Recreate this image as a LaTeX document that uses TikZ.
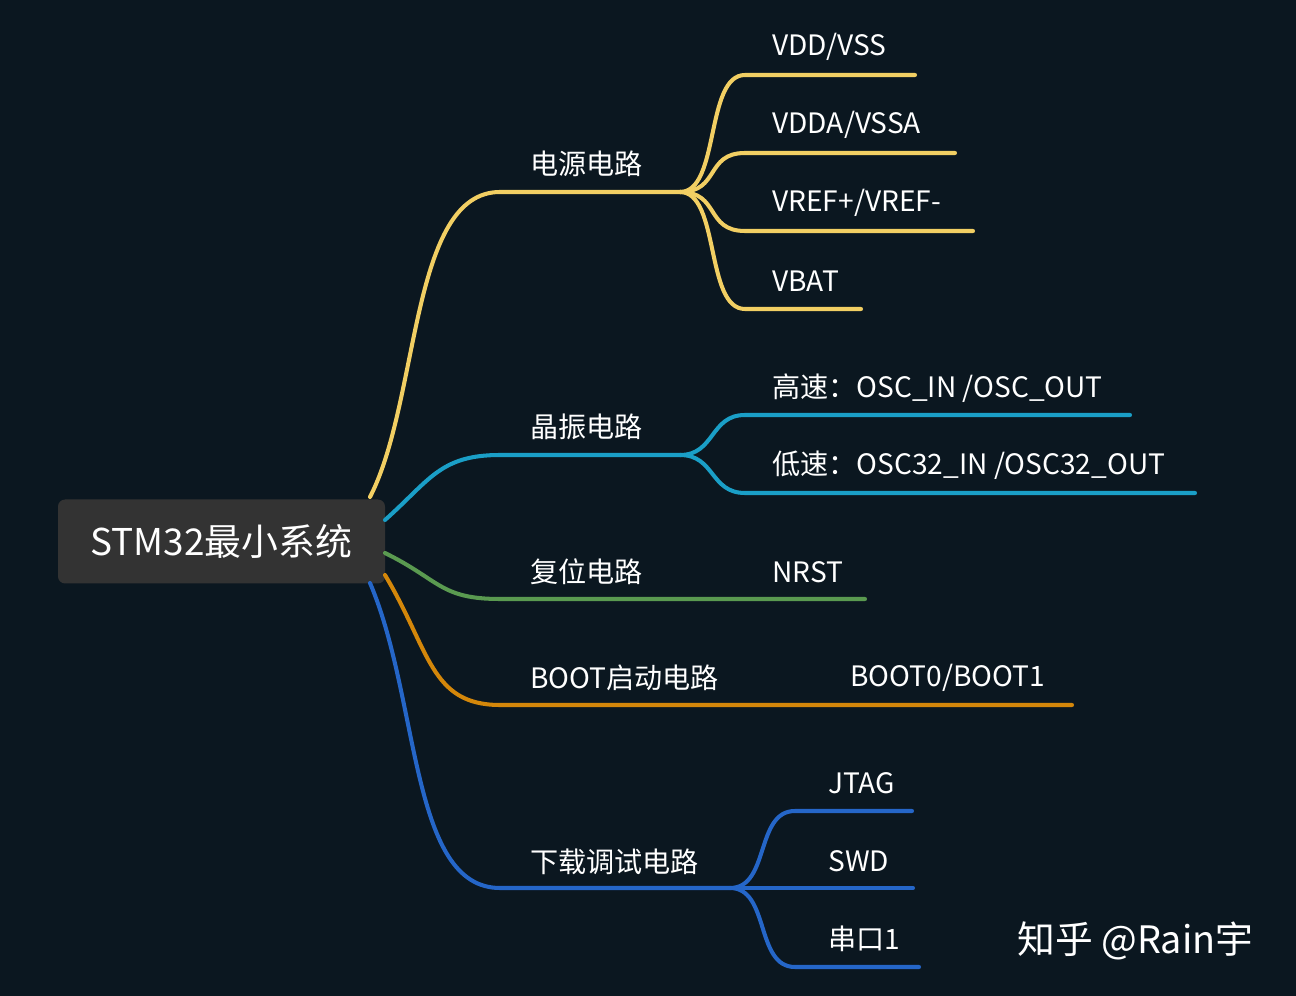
\documentclass[tikz,border=0pt]{standalone}
\usepackage{fontspec}
\setmainfont{Noto Sans CJK SC}
\begin{document}
\begin{tikzpicture}[x=0.02cm,y=-0.02cm,
  lbl/.style={anchor=west,text=white,font=\fontsize{16}{19}\selectfont,inner sep=0pt},
  ]
\definecolor{bg}{HTML}{0B1720}
\definecolor{cy}{HTML}{F2CF63}
\definecolor{cc}{HTML}{1A9FC7}
\definecolor{cg}{HTML}{5A9A50}
\definecolor{co}{HTML}{D4870A}
\definecolor{cb}{HTML}{2566C8}
\fill[bg] (0,0) rectangle (1296,996);
\useasboundingbox (0,0) rectangle (1296,996);
% root
\node[fill=black!80!white,rounded corners=4pt,minimum width=327*0.02cm,minimum height=84*0.02cm,text=white,font=\fontsize{21}{24}\selectfont,inner sep=0pt] (root) at (221.5,541.5) {STM32最小系统};
\tikzset{br/.style={line width=2.3pt,line cap=round}}
% coordinates
\coordinate (ys) at (370,497); \coordinate (y0) at (500,192); \coordinate (y1) at (680,192);
\coordinate (cs) at (385,520); \coordinate (c0) at (500,455); \coordinate (c1) at (680,455);
\coordinate (gs) at (385,553); \coordinate (g0) at (500,599); \coordinate (g1) at (865,599);
\coordinate (os) at (385,575); \coordinate (o0) at (500,705); \coordinate (o1) at (1072,705);
\coordinate (bs) at (370,583); \coordinate (b0) at (500,888); \coordinate (b1) at (730,888);
% main branches
\draw[br,cy] (ys) .. controls (420,400) and (410,192) .. (y0) -- (y1);
\draw[br,cc] (cs) .. controls (430,480) and (440,455) .. (c0) -- (c1);
\draw[br,cg] (gs) .. controls (440,580) and (440,599) .. (g0) -- (g1);
\draw[br,co] (os) .. controls (430,650) and (430,705) .. (o0) -- (o1);
\draw[br,cb] (bs) .. controls (420,700) and (410,888) .. (b0) -- (b1);
\foreach \yy/\xe/\n in {75/915/ya,153/955/yb,231/973/yc,309/861/yd}{
  \coordinate (\n s) at (745,\yy); \coordinate (\n e) at (\xe,\yy);
  \draw[br,cy] (y1) .. controls (720,192) and (705,\yy) .. (\n s) -- (\n e);}
\foreach \yy/\xe/\n in {415/1130/ca,493/1195/cb}{
  \coordinate (\n s) at (745,\yy); \coordinate (\n e) at (\xe,\yy);
  \draw[br,cc] (c1) .. controls (715,455) and (710,\yy) .. (\n s) -- (\n e);}
\foreach \yy/\xe/\n in {811/912/ba,888/913/bb,967/919/bc}{
  \coordinate (\n s) at (795,\yy); \coordinate (\n e) at (\xe,\yy);
  \draw[br,cb] (b1) .. controls (770,888) and (755,\yy) .. (\n s) -- (\n e);}
% labels
\node[lbl] (l1) at (530,164) {电源电路};
\node[lbl] (l2) at (530,427) {晶振电路};
\node[lbl] (l3) at (530,572) {复位电路};
\node[lbl] (l4) at (530,678) {BOOT启动电路};
\node[lbl] (l5) at (530,862) {下载调试电路};
\node[lbl] (k1) at (772,47) {VDD/VSS};
\node[lbl] (k2) at (772,125) {VDDA/VSSA};
\node[lbl] (k3) at (772,203) {VREF+/VREF-};
\node[lbl] (k4) at (772,281) {VBAT};
\node[lbl] (k5) at (772,388) {高速：OSC\_IN /OSC\_OUT};
\node[lbl] (k6) at (772,465) {低速：OSC32\_IN /OSC32\_OUT};
\node[lbl] (k7) at (772,572) {NRST};
\node[lbl] (k8) at (850,678) {BOOT0/BOOT1};
\node[lbl] (k9) at (828,783) {JTAG};
\node[lbl] (k10) at (828,861) {SWD};
\node[lbl] (k11) at (828,939) {串口1};
\node[anchor=west,text=white,font=\fontsize{21.5}{24}\selectfont,inner sep=0pt] (wm) at (1017,941) {知乎 @Rain宇};
\end{tikzpicture}
\end{document}
